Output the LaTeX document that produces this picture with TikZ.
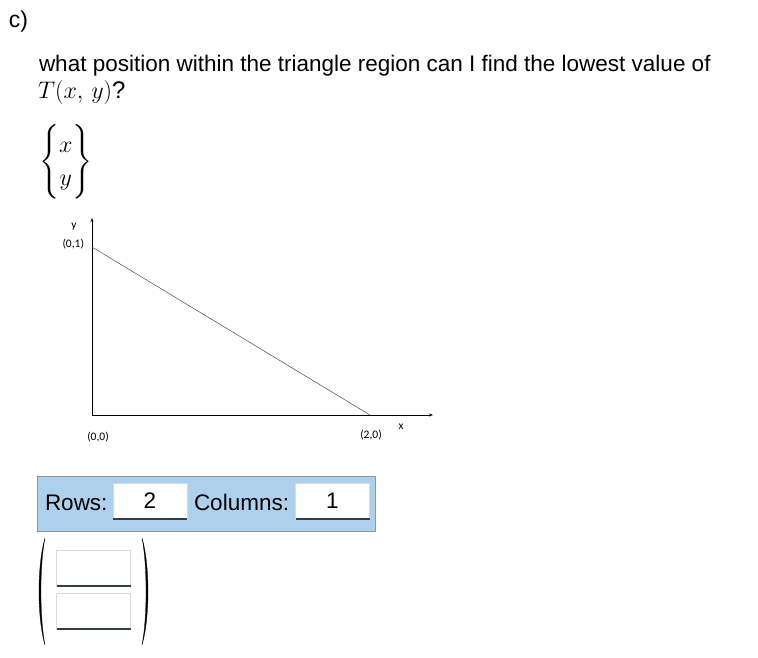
\RequirePackage{fix-cm}
\documentclass[tikz,border=0pt]{standalone}
\usepackage[no-math]{fontspec}
\setmainfont{Liberation Sans}
\newfontfamily\axisfont{Carlito}
\usepackage{amsmath}
\definecolor{panelblue}{RGB}{173,209,237}
\definecolor{panelrim}{RGB}{150,150,150}
\definecolor{boxrim}{RGB}{218,218,218}
\definecolor{boxbase}{RGB}{52,62,72}
\usetikzlibrary{positioning,arrows.meta}

\begin{document}
\begin{tikzpicture}[
    x=1pt, y=-1pt,
    every node/.style={inner sep=0pt, outer sep=0pt},
    bigtext/.style={anchor=base west, font=\fontsize{22.5}{27}\selectfont},
    axislabel/.style={font=\axisfont\fontsize{11.5}{13}\selectfont},
    axisline/.style={-{Stealth[length=4pt,width=3pt]}, line width=0.9pt},
    edge/.style={draw=black!70, line width=0.5pt},
    panel/.style={rectangle, draw=panelrim, fill=panelblue, line width=0.8pt, minimum width=338pt, minimum height=55pt},
    inputbox/.style={rectangle, draw=boxrim, fill=white, line width=0.8pt, minimum width=74pt, minimum height=36pt, font=\fontsize{22.5}{27}\selectfont},
    baseline/.style={draw=boxbase, line width=1.2pt},
    parenstroke/.style={fill=black, draw=black, line width=0.3pt}
]
\useasboundingbox (0,0) rectangle (758,657);

% heading and question
\node[bigtext, font=\fontsize{23}{27}\selectfont] (part) at (9,27) {c)};
\node[bigtext] (question) at (39,71) {what position within the triangle region can I find the lowest value of};
\node[bigtext] (tmath) at (38,98) {\fontsize{24}{28}\selectfont$T(x,\,y)$?};
\node[anchor=west, font=\fontsize{24}{33}\selectfont] (vec) at (39,162)
    {$\left\{\begin{matrix} x\\ y \end{matrix}\right\}$};

% axes and triangle
\coordinate (origin) at (92,415);
\coordinate (ytip) at (92,218);
\coordinate (xtip) at (433,415);
\coordinate (ptop) at (92,247);
\coordinate (pright) at (370,415);

\draw[axisline] (origin) -- (ytip);
\draw[axisline] (origin) -- (xtip);
\draw[edge] (ptop) -- (pright);

\node[axislabel] (ylab) at (74,227) {y};
\node[axislabel, anchor=east] (toplab) at (84,244) {(0,1)};
\node[axislabel] (originlab) at (98,437) {(0,0)};
\node[axislabel] (rightlab) at (371,435) {(2,0)};
\node[axislabel] (xlab) at (401,427) {x};

% size panel
\node[panel] (sizepanel) at (206,503.5) {};
\node[bigtext] (rowstext) at (45,510) {Rows:};
\node[inputbox] (rowsbox) at (150,501) {2};
\node[bigtext] (colstext) at (194,510) {Columns:};
\node[inputbox] (colsbox) at (332.5,501) {1};
\draw[baseline] (rowsbox.south west) -- (rowsbox.south east);
\draw[baseline] (colsbox.south west) -- (colsbox.south east);

% answer matrix
\node[inputbox] (cellone) at (93.5,568) {};
\node[inputbox] (celltwo) at (93.5,611) {};
\draw[baseline] (cellone.south west) -- (cellone.south east);
\draw[baseline] (celltwo.south west) -- (celltwo.south east);
\draw[parenstroke] (45,538) .. controls (37,565) and (37,618) .. (45,645)
    .. controls (39.6,618) and (39.6,565) .. cycle;
\draw[parenstroke] (142,538) .. controls (150,565) and (150,618) .. (142,645)
    .. controls (147.4,618) and (147.4,565) .. cycle;

\end{tikzpicture}
\end{document}
